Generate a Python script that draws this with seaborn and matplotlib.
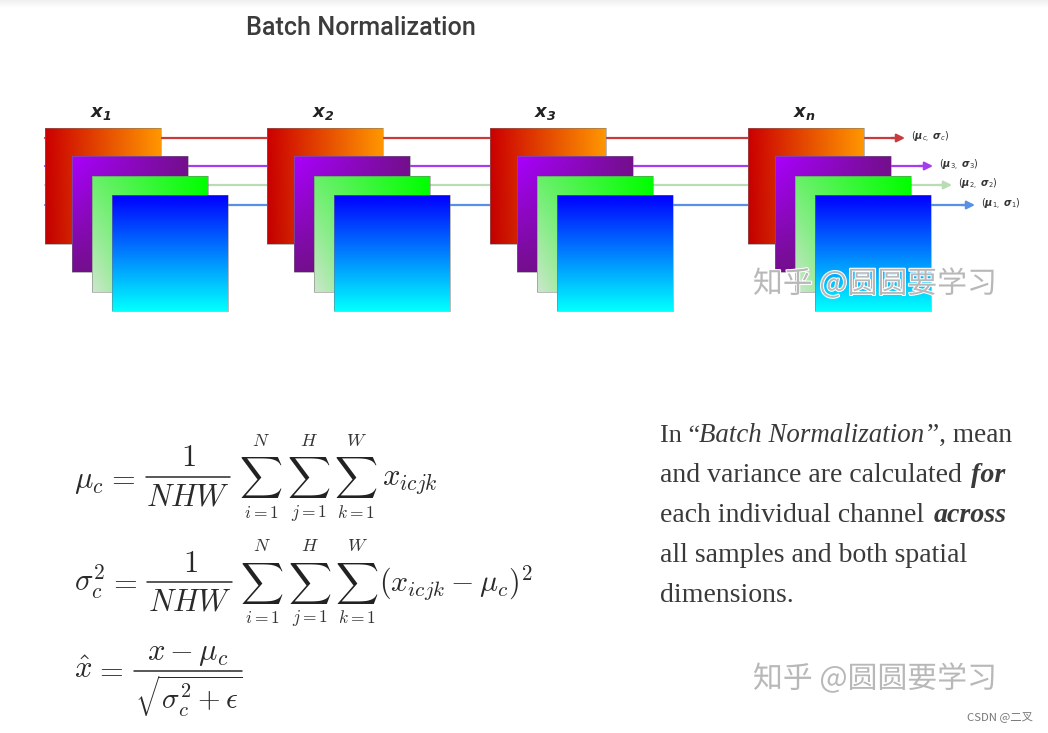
# batch normalization figure

import numpy as np
import pandas as pd
import matplotlib
matplotlib.use("Agg")
import matplotlib.pyplot as plt
import matplotlib.patheffects as pe
import seaborn as sns

TITLE = "Batch Normalization"
BLOCK_LEFT = [45, 267, 489.5, 748]
BLOCK_LABELS = ["1", "2", "3", "n"]
LAYER_DX = [0, 27, 47, 67]
LAYER_DY = [128, 156, 176, 195]
LINE_Y = [138, 166, 185, 205]
LINE_END = [905, 933, 952, 975]
LINE_COLORS = ["#c93a3a", "#a63cf0", "#b9dcb4", "#5a8fe6"]
OUTPUT_LABELS = [r"$(\mathbfit{\mu}_{c,}\ \mathbfit{\sigma}_{c})$",
                 r"$(\mathbfit{\mu}_{3,}\ \mathbfit{\sigma}_{3})$",
                 r"$(\mathbfit{\mu}_{2,}\ \mathbfit{\sigma}_{2})$",
                 r"$(\mathbfit{\mu}_{1,}\ \mathbfit{\sigma}_{1})$"]

# corner colours: top-left, top-right, bottom-left, bottom-right
LAYER_CORNERS = [
    [(205, 0, 0), (255, 150, 0), (195, 0, 0), (255, 150, 0)],
    [(170, 0, 255), (115, 15, 140), (115, 15, 140), (115, 15, 140)],
    [(105, 240, 105), (0, 255, 0), (205, 230, 205), (0, 255, 0)],
    [(0, 0, 255), (0, 0, 255), (0, 255, 255), (0, 255, 255)],
]

# text, style, weight, font size, left edge
BODY_LINES = [
    [("In \u201c", "normal", "normal", 19, 660), ("Batch Normalization", "italic", "normal", 19.4, 699),
     ("\u201d, mean", "normal", "normal", 19.6, 927)],
    [("and variance are calculated", "normal", "normal", 20, 660), ("for", "italic", "bold", 20.2, 971)],
    [("each individual channel", "normal", "normal", 20, 660), ("across", "italic", "bold", 20.2, 934)],
    [("all samples and both spatial", "normal", "normal", 20, 660)],
    [("dimensions.", "normal", "normal", 20, 660)],
]
BODY_Y = [435.5, 475.5, 515.5, 555.5, 595.5]

WATERMARK = "知乎 @圆圆要学习"
CREDIT = "CSDN @二叉"


def gradient(corners, n=64):
    tl, tr, bl, br = [np.array(c) / 255 for c in corners]
    u = np.linspace(0, 1, n)[None, :, None]
    v = np.linspace(0, 1, n)[:, None, None]
    return (1 - v) * ((1 - u) * tl + u * tr) + v * ((1 - u) * bl + u * br)


def draw_blocks(ax):
    size = 116
    # connecting lines sit behind the squares
    for y, end, color in zip(LINE_Y, LINE_END, LINE_COLORS):
        df = pd.DataFrame({"x": [BLOCK_LEFT[0], end - 8], "y": [y, y]})
        sns.lineplot(data=df, x="x", y="y", ax=ax, color=color, linewidth=1.6,
                     legend=False, zorder=1, errorbar=None)
        ax.annotate("", xy=(end, y), xytext=(end - 14, y), zorder=1,
                    arrowprops=dict(arrowstyle="-|>", color=color, lw=1.6, shrinkA=0, shrinkB=0,
                                    mutation_scale=12))

    for left, label in zip(BLOCK_LEFT, BLOCK_LABELS):
        for i in range(4):
            x0 = left + LAYER_DX[i]
            y0 = LAYER_DY[i]
            ax.imshow(gradient(LAYER_CORNERS[i]), extent=(x0, x0 + size, y0 + size, y0),
                      aspect="auto", zorder=2 + i, interpolation="bilinear")
            ax.plot([x0, x0 + size, x0 + size, x0, x0], [y0, y0, y0 + size, y0 + size, y0],
                    color="#777777", lw=0.6, alpha=0.6, zorder=2 + i)
        ax.text(left + 56, 113, rf"$\mathbfit{{x}}_{{\mathbfit{{{label}}}}}$", fontsize=13,
                math_fontfamily="dejavusans", ha="center", va="center", color="#222222")

    for y, end, label in zip(LINE_Y, LINE_END, OUTPUT_LABELS):
        ax.text(end + 6, y - 1, label, fontsize=7, math_fontfamily="dejavusans",
                ha="left", va="center", color="#333333")


def draw_sums(ax, centers, y):
    for cx, top, bottom in zip(centers, ["N", "H", "W"], ["i=1", "j=1", "k=1"]):
        ax.text(cx, y, r"$\sum$", fontsize=21.5, ha="center", va="center", color="#222222")
        ax.text(cx, y - 37, f"${top}$", fontsize=13, ha="center", va="center", color="#333333")
        ax.text(cx, y + 35, f"${bottom}$", fontsize=12.5, ha="center", va="center", color="#333333")


def draw_formulas(ax):
    color = "#2a2a2a"
    fs = 22

    ax.text(74, 480, r"$\mu_c$", fontsize=fs, va="center", color=color)
    ax.text(106, 478, r"$=$", fontsize=fs, va="center", color=color)
    ax.plot([146, 230], [477, 477], color=color, lw=1.1)
    ax.text(188, 458, r"$1$", fontsize=fs, ha="center", va="center", color=color)
    ax.text(188, 497, r"$NHW$", fontsize=fs, ha="center", va="center", color=color)
    draw_sums(ax, [261, 309, 356], 478)
    ax.text(382, 481, r"$x_{icjk}$", fontsize=fs, va="center", color=color)

    ax.text(74, 582, r"$\sigma_c^2$", fontsize=fs, va="center", color=color)
    ax.text(108, 582, r"$=$", fontsize=fs, va="center", color=color)
    ax.plot([147, 232], [582, 582], color=color, lw=1.1)
    ax.text(190, 563, r"$1$", fontsize=fs, ha="center", va="center", color=color)
    ax.text(190, 602, r"$NHW$", fontsize=fs, ha="center", va="center", color=color)
    draw_sums(ax, [262, 310, 357], 583)
    ax.text(379, 583, r"$(x_{icjk}-\mu_c)^2$", fontsize=21.6, va="center", color=color)

    ax.text(74, 670, r"$\hat{x}$", fontsize=fs, va="center", color=color)
    ax.text(94, 670, r"$=$", fontsize=fs, va="center", color=color)
    ax.plot([134, 242], [671, 671], color=color, lw=1.1)
    ax.text(188, 652, r"$x-\mu_c$", fontsize=fs, ha="center", va="center", color=color)
    ax.text(189, 696, r"$\sqrt{\sigma_c^2+\epsilon}$", fontsize=21, ha="center", va="center", color=color)


def draw_body(ax):
    for runs, y in zip(BODY_LINES, BODY_Y):
        for text, style, weight, size, x in runs:
            ax.text(x, y, text, fontsize=size, family="Liberation Serif", style=style,
                    weight=weight, ha="left", va="center", color="#3a3a3a")


def main():
    sns.set_theme(style="white")
    plt.rcParams["font.family"] = ["Noto Sans CJK SC", "DejaVu Sans"]
    plt.rcParams["mathtext.fontset"] = "cm"

    fig = plt.figure(figsize=(10.48, 7.33), dpi=100)
    ax = fig.add_axes([0, 0, 1, 1])
    ax.axis("off")

    # faint grey band along the top edge
    ax.imshow(gradient([(240, 240, 240), (240, 240, 240), (255, 255, 255), (255, 255, 255)]),
              extent=(0, 1048, 8, 0), aspect="auto", zorder=0)

    ax.text(361, 28, TITLE, fontsize=18.1, family="Roboto", weight="medium",
            ha="center", va="center", color="#3c3c3c")

    draw_blocks(ax)
    draw_formulas(ax)
    draw_body(ax)

    for y in [284, 679]:
        ax.text(875, y, WATERMARK, fontsize=21.5, ha="center", va="center", color="#b8b8b8",
                zorder=10, path_effects=[pe.withStroke(linewidth=1.5, foreground="white")])
    ax.text(1033, 718, CREDIT, fontsize=8.2, ha="right", va="center", color="#777777")

    ax.set_xlim(0, 1048)
    ax.set_ylim(733, 0)
    fig.savefig("out.png", dpi=100, facecolor="white")


if __name__ == "__main__":
    main()
